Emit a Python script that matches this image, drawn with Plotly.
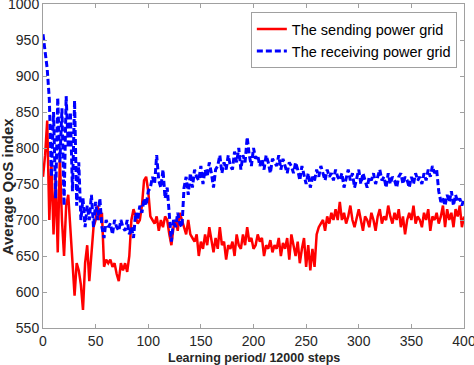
import plotly.graph_objects as go

# Sending power grid (red), sampled every 2 learning periods from 0 to 400
red = [
    760, 790, 838, 700, 780, 680, 760, 655, 785, 700,   # 0-18
    650, 720, 735, 690, 640, 595, 640, 630, 610, 575,   # 20-38
    640, 665, 615, 660, 690, 700, 720, 700, 710, 635,   # 40-58
    645, 640, 645, 635, 640, 625, 615, 640, 630, 640,   # 60-78
    628, 650, 700, 715, 705, 695, 700, 720, 755, 760,   # 80-98
    740, 705, 700, 695, 705, 685, 700, 690, 705, 700,   # 100-118
    680, 665, 690, 700, 685, 710, 700, 690, 680, 700,   # 120-138
    680, 675, 670, 680, 650, 670, 660, 680, 665, 690,   # 140-158
    670, 655, 675, 660, 690, 665, 670, 645, 665, 660,   # 160-178
    670, 650, 680, 665, 660, 680, 665, 690, 670, 675,   # 180-198
    660, 665, 680, 670, 675, 650, 665, 660, 672, 655,   # 200-218
    665, 660, 675, 650, 668, 660, 675, 645, 680, 665,   # 220-238
    650, 670, 640, 660, 675, 635, 665, 630, 660, 635,   # 240-258
    680, 690, 695, 700, 685, 705, 695, 710, 700, 715,   # 260-278
    700, 725, 700, 710, 695, 705, 720, 700, 690, 705,   # 280-298
    715, 700, 685, 705, 700, 690, 710, 700, 685, 705,   # 300-318
    715, 695, 705, 700, 720, 705, 695, 710, 700, 715,   # 320-338
    690, 705, 680, 700, 710, 700, 720, 695, 705, 700,   # 340-358
    690, 710, 700, 715, 685, 705, 700, 710, 695, 705,   # 360-378
    720, 690, 715, 700, 710, 690, 715, 705, 720, 690,   # 380-398
    705,                                                # 400
]

# Receiving power grid (blue)
blue = [
    958, 935, 910, 868, 760, 850, 730, 870, 780, 855,   # 0-18
    720, 872, 800, 850, 740, 866, 720, 780, 700, 730,   # 20-38
    690, 720, 700, 735, 690, 725, 700, 730, 690, 675,   # 40-58
    700, 690, 695, 680, 700, 690, 685, 700, 690, 685,   # 60-78
    700, 680, 690, 675, 710, 700, 720, 710, 730, 720,   # 80-98
    740, 745, 760, 750, 790, 755, 745, 770, 730, 745,   # 100-118
    700, 670, 700, 690, 710, 695, 690, 745, 760, 735,   # 120-138
    765, 745, 770, 760, 755, 775, 750, 770, 760, 780,   # 140-158
    765, 745, 770, 775, 790, 765, 780, 770, 790, 775,   # 160-178
    770, 795, 780, 800, 770, 790, 780, 815, 790, 775,   # 180-198
    800, 785, 790, 775, 785, 770, 790, 780, 765, 785,   # 200-218
    780, 775, 790, 770, 785, 775, 765, 780, 775, 765,   # 220-238
    780, 770, 755, 775, 760, 750, 765, 745, 760, 755,   # 240-258
    770, 760, 775, 765, 755, 770, 760, 765, 755, 770,   # 260-278
    760, 755, 765, 745, 760, 770, 755, 765, 745, 760,   # 280-298
    770, 750, 765, 755, 745, 760, 755, 765, 750, 760,   # 300-318
    770, 755, 760, 745, 765, 750, 760, 755, 745, 760,   # 320-338
    765, 750, 760, 755, 745, 760, 750, 765, 755, 760,   # 340-358
    750, 765, 755, 770, 760, 775, 765, 770, 740, 725,   # 360-378
    730, 720, 735, 725, 740, 720, 735, 725, 730, 720,   # 380-398
    730,                                                # 400
]

periods = [2 * i for i in range(len(red))]

x_ticks = [0, 50, 100, 150, 200, 250, 300, 350, 400]
y_ticks = [550, 600, 650, 700, 750, 800, 850, 900, 950, 1000]

x_title = "Learning period/ 12000 steps"
y_title = "Average QoS index"

font_family = "Liberation Sans, Arial, sans-serif"
tick_color = "#262626"
axis_color = "#a0a0a0"

fig = go.Figure()
fig.add_trace(go.Scatter(
    x=periods, y=red, mode="lines", name="The sending power grid",
    line=dict(color="#ff0000", width=2.5),
))
fig.add_trace(go.Scatter(
    x=periods, y=blue, mode="lines", name="The receiving power grid",
    line=dict(color="#0000ff", width=3, dash="6px,3px"),
))

axis_common = dict(
    showline=True, mirror="ticks", linecolor=axis_color, linewidth=1,
    ticks="inside", ticklen=4, tickcolor=axis_color, tickwidth=1,
    showgrid=False, zeroline=False, automargin=False,
    ticklabeloverflow="allow",
    tickfont=dict(family=font_family, size=14, color=tick_color),
)

fig.update_layout(
    width=474, height=365,
    margin=dict(l=43, r=10, t=4, b=37, autoexpand=False),
    paper_bgcolor="white", plot_bgcolor="white",
    showlegend=True,
    legend=dict(
        x=0.983, y=0.975, xanchor="right", yanchor="top",
        bgcolor="white", bordercolor="#a0a0a0", borderwidth=1,
        font=dict(family=font_family, size=14.5, color="#000000"),
        tracegroupgap=0, itemwidth=30,
    ),
    xaxis=dict(range=[0, 400], tickvals=x_ticks, **axis_common),
    yaxis=dict(range=[550, 1000], tickvals=y_ticks, **axis_common),
    annotations=[
        dict(text="<b>" + x_title + "</b>", xref="paper", yref="paper",
             x=0.5, y=-0.093, xanchor="center", yanchor="middle",
             showarrow=False,
             font=dict(family=font_family, size=12.5, color=tick_color)),
        dict(text="<b>" + y_title + "</b>", xref="paper", yref="paper",
             x=-0.085, y=0.438, xanchor="center", yanchor="middle",
             textangle=-90, showarrow=False,
             font=dict(family=font_family, size=15, color=tick_color)),
    ],
)

fig.write_html(
    "out.html",
    config={"displayModeBar": False},
    post_script="document.body.style.margin='0';document.body.style.overflow='hidden';",
)
